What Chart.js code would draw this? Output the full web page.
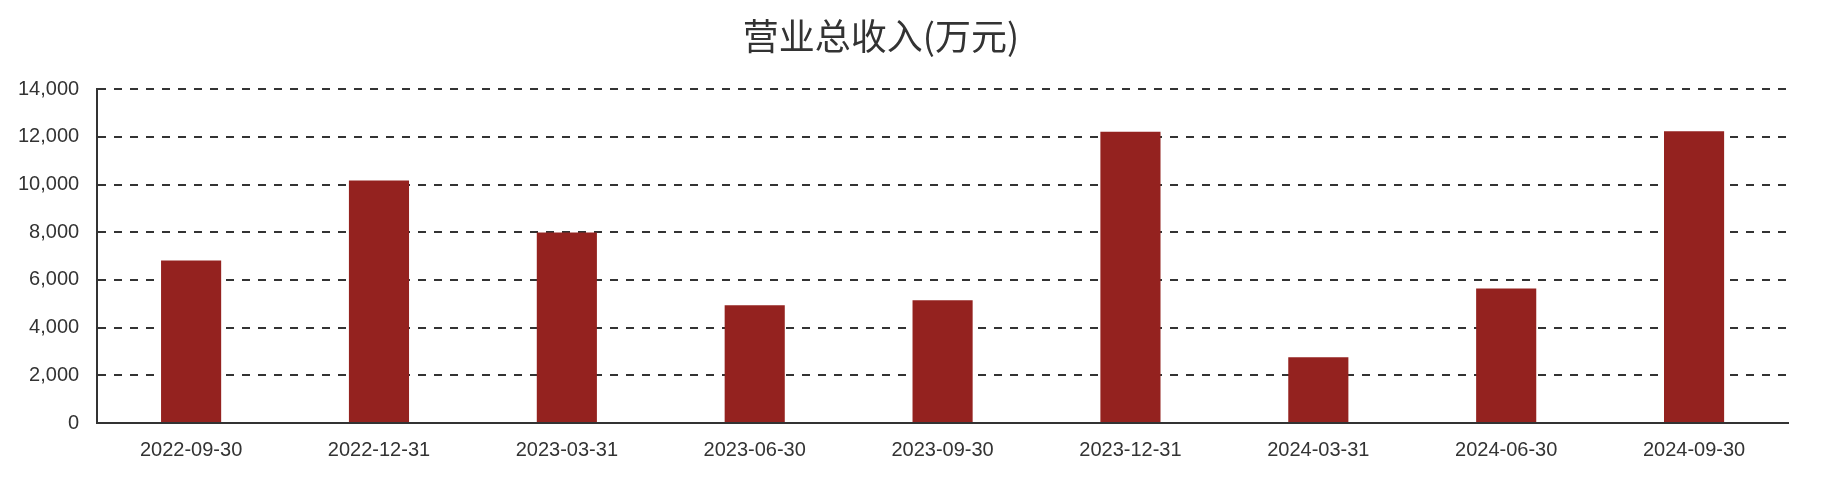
<!DOCTYPE html>
<html>
<head>
<meta charset="utf-8">
<script src="https://cdn.jsdelivr.net/npm/chart.js@4/dist/chart.umd.min.js"></script>
<style>
  html, body { margin: 0; padding: 0; background: #ffffff; }
  #wrap { position: relative; width: 1842px; height: 498px; }
</style>
</head>
<body>
<div id="wrap"><canvas id="c" width="1842" height="498"></canvas></div>
<script>
const categories = ['2022-09-30', '2022-12-31', '2023-03-31', '2023-06-30', '2023-09-30', '2023-12-31', '2024-03-31', '2024-06-30', '2024-09-30'];
const revenue = [6820, 10170, 7990, 4940, 5150, 12220, 2760, 5640, 12240];
const yTickValues = [0, 2000, 4000, 6000, 8000, 10000, 12000, 14000];
const titleText = '营业总收入(万元)';

const titleShift = {
  id: 'titleShift',
  afterLayout(chart) {
    const t = chart.titleBlock;
    if (t) { t.right -= 26; t.width -= 26; }
  }
};

new Chart(document.getElementById('c'), {
  type: 'bar',
  data: {
    labels: categories,
    datasets: [{
      label: titleText,
      data: revenue,
      backgroundColor: '#94221F',
      borderWidth: 0,
      categoryPercentage: 1.0,
      barPercentage: 0.32
    }]
  },
  options: {
    responsive: false,
    animation: false,
    layout: { padding: { left: 0, right: 54, top: 0, bottom: 21 } },
    plugins: {
      legend: { display: false },
      tooltip: { enabled: false },
      title: {
        display: true,
        text: titleText,
        color: '#333333',
        font: { family: '"Noto Sans CJK SC", "Noto Sans", sans-serif', size: 36, weight: 'normal', lineHeight: 1.2 },
        padding: { top: 15, bottom: 31 }
      }
    },
    scales: {
      x: {
        grid: { display: false, drawTicks: false },
        border: { display: true, color: '#333333', width: 2 },
        ticks: {
          color: '#333333',
          padding: 15,
          maxRotation: 0,
          autoSkip: false,
          font: { family: '"Liberation Sans", Arial, sans-serif', size: 20 }
        }
      },
      y: {
        min: 0,
        max: 14000,
        afterBuildTicks(axis) { axis.ticks = yTickValues.map(v => ({ value: v })); },
        grid: { color: '#333333', lineWidth: 2, drawTicks: false },
        border: { display: true, color: '#333333', width: 2, dash: [8, 8] },
        ticks: {
          color: '#333333',
          padding: 18,
          font: { family: '"Liberation Sans", Arial, sans-serif', size: 20 },
          callback: v => Number(v).toLocaleString('en-US')
        }
      }
    }
  },
  plugins: [titleShift]
});
</script>
</body>
</html>
